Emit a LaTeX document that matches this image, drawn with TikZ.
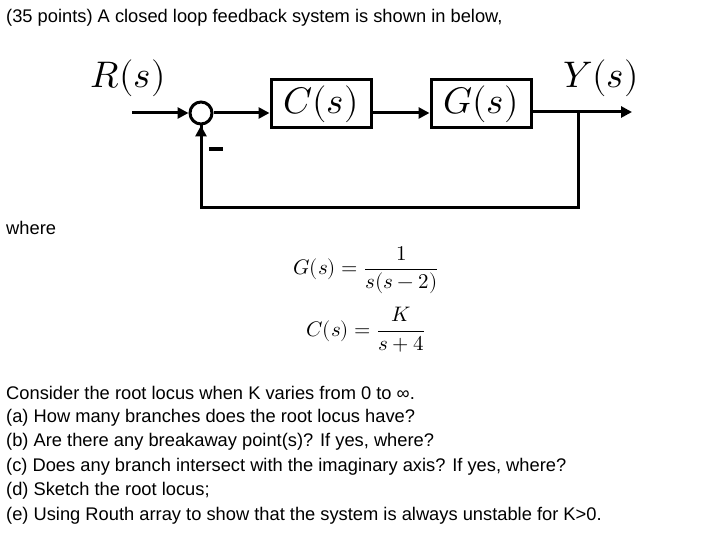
\documentclass[tikz,border=0pt]{standalone}
\usepackage{fontspec}
\setmainfont{Liberation Sans}
\usepackage{unicode-math}
\usetikzlibrary{arrows.meta}
\begin{document}
\begin{tikzpicture}[x=1pt,y=-1pt,
  blk/.style={draw,line width=3pt,minimum width=100pt,minimum height=48pt,inner sep=0pt},
  sig/.style={line width=3pt,-{Triangle[length=11pt,width=11pt]}},
  wire/.style={line width=3pt},
  txt/.style={anchor=west,inner sep=0pt,font=\fontsize{18.3}{21}\selectfont},
  lab/.style={inner sep=0pt,font=\fontsize{37}{38}\selectfont}]
\useasboundingbox (0,0) rectangle (723,556);
\node[txt] (t0) at (6,18) {(35 points) A closed loop feedback system is shown in below,};
\node[draw,circle,line width=3pt,minimum size=22pt,inner sep=0pt] (sum) at (201,113) {};
\node[blk] (C) at (321,104) {};
\node[lab] (Ct) at (C) {$C(s)$};
\node[blk] (G) at (481,104) {};
\node[lab] (Gt) at (G) {$G(s)$};
\coordinate (rin) at (132,113);
\coordinate (yout) at (632,112);
\coordinate (tap) at (578,112);
\coordinate (fb1) at (578,208);
\coordinate (fb2) at (201,208);
\draw[sig] (rin) -- (sum.west);
\draw[sig] (sum.east) -- (C.west |- sum.east);
\draw[sig] (C.east |- sum.east) -- (G.west |- sum.east);
\draw[sig] (G.east |- yout) -- (yout);
\draw[wire] (tap) -- (fb1) -- (fb2) -- (sum.south) ;
\draw[sig] (fb2) -- (sum.south);
\node[lab] (R) at (128,78) {$R(s)$};
\node[lab] (Y) at (601,78) {$Y(s)$};
\node[inner sep=0pt] (m) at (216,149) {\rule{14pt}{3.5pt}};
\node[txt] (w) at (6,228) {where};
\node[inner sep=0pt,font=\fontsize{21}{24}\selectfont] (e1) at (366,270) {$G(s)=\dfrac{1}{s(s-2)}$};
\node[inner sep=0pt,font=\fontsize{21}{24}\selectfont] (e2) at (366,330) {$C(s)=\dfrac{K}{s+4}$};
\node[txt] (q0) at (6,393) {Consider the root locus when K varies from 0 to ∞.};
\node[txt] (q1) at (6,418) {(a) How many branches does the root locus have?};
\node[txt] (q2) at (6,442) {(b) Are there any breakaway point(s)? If yes, where?};
\node[txt] (q3) at (6,467) {(c) Does any branch intersect with the imaginary axis? If yes, where?};
\node[txt] (q4) at (6,491) {(d) Sketch the root locus;};
\node[txt] (q5) at (6,516) {(e) Using Routh array to show that the system is always unstable for K>0.};
\end{tikzpicture}
\end{document}
